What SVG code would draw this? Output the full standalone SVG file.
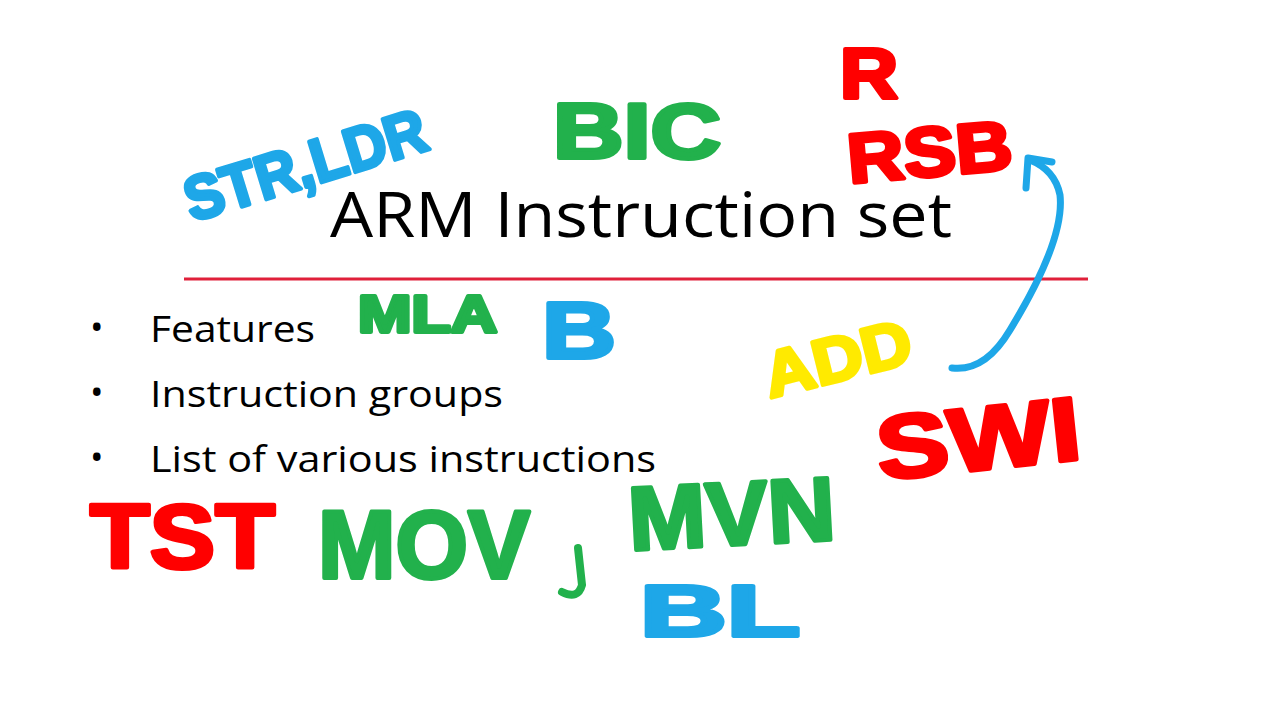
<svg xmlns="http://www.w3.org/2000/svg" width="1280" height="720" viewBox="0 0 1280 720">
<style>
.t{font-family:"Open Sans","Liberation Sans",sans-serif;fill:#000}
.h{font-family:"Liberation Sans",sans-serif;stroke-width:4;stroke-linejoin:round}
.bl{fill:#1ea7e8;stroke:#1ea7e8}.gr{fill:#22b14c;stroke:#22b14c}.rd{fill:#ff0000;stroke:#ff0000}.ye{fill:#ffea00;stroke:#ffea00}
</style>
<rect width="1280" height="720" fill="#fff"/>
<g id="title"><text class="t" x="330" y="237" font-size="62" textLength="622" lengthAdjust="spacingAndGlyphs">ARM Instruction set</text>
<line x1="184" y1="279" x2="1088" y2="279" stroke="#e0203a" stroke-width="3"/></g>
<g id="bullets" class="t" font-size="36">
<text x="90" y="340">•</text><text x="150" y="342" textLength="165" lengthAdjust="spacingAndGlyphs">Features</text>
<text x="90" y="405">•</text><text x="150" y="407" textLength="353" lengthAdjust="spacingAndGlyphs">Instruction groups</text>
<text x="90" y="470">•</text><text x="150" y="472" textLength="506" lengthAdjust="spacingAndGlyphs">List of various instructions</text>
</g>
<g id="annotations" font-weight="bold">
<text class="h bl" x="0" y="0" font-size="62" textLength="250" lengthAdjust="spacingAndGlyphs" transform="translate(192,222) rotate(-17)">STR,LDR</text>
<text class="h gr" x="553" y="158" font-size="78" textLength="168" lengthAdjust="spacingAndGlyphs">BIC</text>
<text class="h rd" x="840" y="98" font-size="70" textLength="58" lengthAdjust="spacingAndGlyphs">R</text>
<text class="h rd" x="847" y="176" font-size="70" textLength="165" lengthAdjust="spacingAndGlyphs" transform="rotate(-5 930 150)">RSB</text>
<text class="h gr" x="358" y="332" font-size="52" textLength="139" lengthAdjust="spacingAndGlyphs">MLA</text>
<text class="h bl" x="542" y="358" font-size="80" textLength="74" lengthAdjust="spacingAndGlyphs">B</text>
<text class="h ye" x="0" y="0" font-size="64" textLength="150" lengthAdjust="spacingAndGlyphs" transform="translate(770,398) rotate(-14)">ADD</text>
<text class="h rd" x="875" y="470" font-size="90" textLength="205" lengthAdjust="spacingAndGlyphs" transform="rotate(-6 975 430)">SWI</text>
<text class="h rd" x="90" y="568" font-size="90" textLength="185" lengthAdjust="spacingAndGlyphs">TST</text>
<text class="h gr" x="318" y="578" font-size="96" textLength="212" lengthAdjust="spacingAndGlyphs">MOV</text>
<path d="M578,548 L582,585 Q578,600 562,592" fill="none" stroke="#22b14c" stroke-width="8" stroke-linecap="round"/>
<text class="h gr" x="628" y="545" font-size="90" textLength="207" lengthAdjust="spacingAndGlyphs" transform="rotate(-3 730 510)">MVN</text>
<text class="h bl" x="640" y="636" font-size="72" textLength="160" lengthAdjust="spacingAndGlyphs">BL</text>
</g>
<g id="connectors" fill="none" stroke="#1ea7e8" stroke-width="7" stroke-linecap="round" stroke-linejoin="round">
<path d="M952,368 Q985,372 1010,330 Q1065,240 1060,195 Q1055,170 1030,160"/>
<path d="M1026,188 L1028,158 L1052,162"/>
</g>
</svg>
